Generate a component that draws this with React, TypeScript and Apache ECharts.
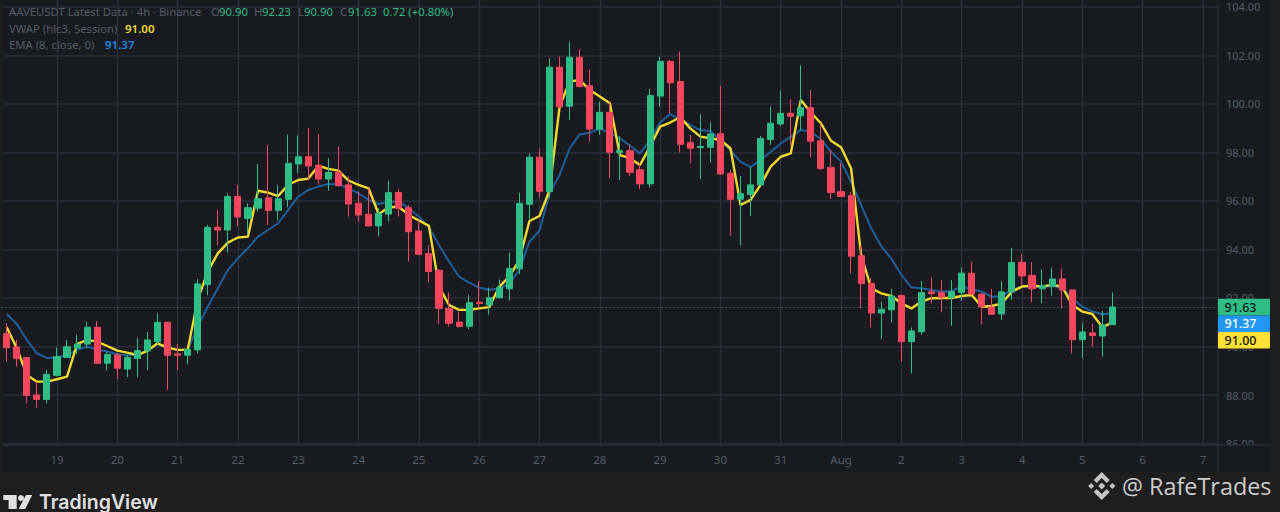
import React, { useEffect, useRef } from "react";
import * as echarts from "echarts";

const opens = [
  90.54,89.98,89.54,88.00,87.82,88.81,89.55,89.94,90.10,90.79,
  89.31,89.65,89.07,89.51,89.82,90.20,91.00,89.69,89.64,89.86,
  92.55,94.91,94.80,96.18,95.28,95.70,96.13,95.61,96.07,97.52,
  97.82,97.47,96.90,97.18,96.66,95.90,95.45,94.97,95.46,96.34,
  95.72,94.76,93.83,93.14,91.56,91.00,90.83,91.82,91.71,92.01,
  92.38,93.20,95.86,97.80,96.38,101.51,99.90,101.92,100.75,98.96,
  99.65,98.00,98.07,97.28,96.70,100.32,101.75,100.92,98.40,98.20,
  98.21,98.77,97.14,96.07,96.26,96.66,98.53,99.17,99.61,99.50,
  99.84,98.48,97.38,96.38,96.22,93.74,92.60,91.38,91.51,92.10,
  90.20,90.61,92.25,92.22,92.01,92.23,93.02,92.16,91.62,91.34,
  92.25,93.47,92.93,92.38,92.49,92.78,92.33,90.28,90.56,90.43,90.90,
];
const closes = [
  89.95,89.51,87.98,87.82,88.85,89.58,89.99,90.10,90.79,89.31,
  89.67,89.10,89.55,89.83,90.27,91.00,89.64,89.64,89.88,92.58,
  94.91,94.80,96.18,95.34,95.72,96.09,95.61,96.09,97.55,97.82,
  97.44,96.90,97.17,96.63,95.87,95.42,94.97,95.49,96.34,95.70,
  94.73,93.80,93.09,91.57,90.96,90.83,91.81,91.77,92.01,92.43,
  93.21,95.90,97.80,96.40,101.51,99.88,101.92,100.71,98.96,99.65,
  98.00,98.07,97.18,96.70,100.34,101.75,100.87,98.33,98.17,98.24,
  98.76,97.11,96.07,96.30,96.66,98.57,99.20,99.61,99.49,99.84,
  98.46,97.34,96.35,96.18,93.72,92.59,91.38,91.53,92.08,90.20,
  90.64,92.22,92.18,92.03,92.26,93.02,92.16,91.64,91.33,92.25,
  93.46,92.91,92.38,92.51,92.78,92.32,90.28,90.60,90.45,90.89,91.63,
];
const highs = [
  90.96,90.27,89.56,88.55,89.03,89.95,90.27,90.48,91.02,91.05,
  89.79,89.72,89.65,90.35,90.60,91.37,91.02,90.10,89.91,92.78,
  95.01,95.63,96.31,96.66,95.90,97.52,98.30,96.66,98.73,98.70,
  99.01,98.76,97.76,98.24,97.00,96.38,96.52,95.70,96.84,96.48,
  95.83,95.21,94.18,93.18,92.22,91.44,92.12,92.70,92.43,92.77,
  93.87,96.34,97.96,98.14,101.88,101.94,102.56,102.25,101.42,100.09,
  100.02,98.68,98.33,97.55,100.61,101.94,101.81,102.15,98.72,99.57,
  99.24,100.74,97.28,97.03,97.39,98.68,99.88,100.54,100.19,101.60,
  100.57,99.20,98.10,97.55,96.38,94.16,92.81,91.85,92.37,92.15,
  90.79,92.70,92.84,92.74,92.74,93.26,93.50,92.19,92.37,92.70,
  94.07,93.80,93.47,93.18,93.25,93.20,92.35,90.96,90.93,91.46,92.23,
];
const lows = [
  89.38,89.17,87.66,87.49,87.66,88.76,89.53,89.69,89.93,89.27,
  89.01,88.66,88.74,88.74,89.03,90.10,88.21,89.03,89.27,89.72,
  92.12,94.18,93.87,94.97,94.60,95.56,95.01,95.19,95.74,97.14,
  96.86,96.68,96.42,96.59,95.35,95.15,94.95,94.53,95.15,95.35,
  93.50,93.78,92.65,90.93,90.82,90.78,90.72,91.57,91.30,92.00,
  91.89,92.98,95.21,96.15,96.11,99.82,99.34,100.68,98.44,98.72,
  96.93,96.86,97.03,96.48,96.55,99.88,99.61,97.99,97.55,96.90,
  97.58,97.09,94.57,94.16,95.38,96.62,98.31,99.09,98.31,98.92,
  97.80,97.27,96.08,96.16,93.02,91.57,90.79,90.31,91.00,89.38,
  88.90,90.48,91.78,91.41,90.85,91.89,92.12,90.91,91.31,91.09,
  91.92,92.54,91.82,91.78,92.10,91.57,89.72,89.51,89.98,89.58,90.90,
];
const vwap = [
  90.79,89.93,88.83,88.55,88.55,88.65,88.76,90.10,90.27,90.20,
  90.02,89.83,89.75,89.64,89.82,90.13,89.95,89.86,89.86,91.92,
  93.09,93.84,94.28,94.49,94.53,96.42,96.34,96.20,96.66,96.86,
  96.92,97.44,97.32,97.25,96.84,96.66,96.52,95.45,95.74,95.76,
  95.42,95.19,94.97,92.47,91.71,91.51,91.51,91.57,91.62,92.47,
  92.88,93.57,95.17,95.38,96.43,99.88,100.92,100.98,100.57,100.30,
  100.02,97.89,97.76,97.48,98.24,99.06,99.23,99.45,98.99,98.65,
  98.58,98.51,98.17,95.83,96.04,96.66,97.41,97.82,97.96,100.16,
  99.64,99.20,98.48,98.21,97.34,93.77,92.40,92.19,92.08,91.78,
  91.57,91.85,91.99,92.00,92.00,92.08,92.12,91.64,91.67,91.78,
  92.26,92.47,92.51,92.47,92.54,92.47,91.71,91.44,91.34,90.79,91.00,
];
const ema = [
  91.34,90.93,90.27,89.72,89.53,89.55,89.65,89.86,89.99,89.88,
  89.79,89.68,89.64,89.67,89.83,90.10,89.93,89.86,89.86,90.82,
  91.64,92.40,93.15,93.63,94.05,94.53,94.80,95.08,95.63,96.18,
  96.45,96.59,96.70,96.68,96.52,96.31,96.04,95.87,95.97,95.97,
  95.70,95.35,94.91,94.18,93.50,92.88,92.63,92.43,92.33,92.40,
  92.60,93.15,94.32,94.77,96.31,97.07,98.17,98.74,98.81,98.98,
  98.79,98.58,98.28,97.96,98.51,99.23,99.58,99.36,99.13,98.92,
  98.88,98.51,98.07,97.62,97.39,97.69,98.03,98.37,98.65,98.92,
  98.85,98.54,98.03,97.62,96.79,95.83,94.87,94.13,93.63,92.95,
  92.44,92.40,92.33,92.26,92.29,92.47,92.36,92.26,92.05,92.08,
  92.33,92.47,92.47,92.44,92.49,92.40,91.99,91.64,91.44,91.33,91.37,
];
const dayLabels = ["19","20","21","22","23","24","25","26","27","28","29","30","31","Aug","2","3","4","5","6","7"];
const priceTicks = [86,88,90,92,94,96,98,100,102,104];
const lastClose = 91.63;

const UP = "#2ebd85";
const DOWN = "#f6465d";
const BG = "#181a20";
const OUTER = "#1e1e1e";
const GRID = "#2a2e39";
const MUTED = "#565a66";
const FONT = "'Noto Sans', sans-serif";

const slots = 121;
const firstDaySlot = 5;
const categories: string[] = Array.from({ length: slots }, (_, i) => {
  const k = (i - firstDaySlot) / 6;
  return Number.isInteger(k) && k >= 0 && k < dayLabels.length ? dayLabels[k] : "";
});

echarts.graphic.registerShape(
  "tvLogo",
  echarts.graphic.extendPath(
    "M3.3 495H16.7V509H8.6V500H3.3Z M21 495A3 3 0 1 1 20.99 495Z M26 495H32.2L25.2 509H18.6Z",
    {}
  )
);
echarts.graphic.registerShape(
  "bnbLogo",
  echarts.graphic.extendPath(
    "M0 -3.6L3.6 0L0 3.6L-3.6 0Z M-10.6 -3L-7.6 0L-10.6 3L-13.6 0Z M10.6 -3L13.6 0L10.6 3L7.6 0Z M0 -14L8 -6L5 -3L0 -8L-5 -3L-8 -6Z M0 14L8 6L5 3L0 8L-5 3L-8 6Z",
    {}
  )
);

function txt(x: number, y: number, text: string, fill: string, fontSize = 11.3, extra: any = {}) {
  return {
    type: "text",
    x,
    y,
    z: 8,
    silent: true,
    style: { text, fill, font: `${extra.weight || 400} ${fontSize}px ${extra.family || FONT}`, textAlign: extra.align || "left", textVerticalAlign: "middle" },
  };
}
function badge(y: number, color: string, text: string, fill: string) {
  return [
    { type: "rect", x: 1218, y, z: 7, silent: true, shape: { width: 52, height: 16.6, r: 1 }, style: { fill: color } },
    txt(1240.5, y + 8.5, text, fill, 12.5, { align: "center", weight: 500 }),
  ];
}

export default function App() {
  const ref = useRef<HTMLDivElement>(null);
  useEffect(() => {
    document.body.style.margin = "0";
    document.body.style.background = OUTER;
    const chart = echarts.init(ref.current!, undefined, { renderer: "svg" });
    const candleData = opens.map((o, i) => [o, closes[i], lows[i], highs[i]]);
    chart.setOption({
      animation: false,
      backgroundColor: OUTER,
      grid: { left: 1.7, top: 0, width: 1216.3, height: 445, containLabel: false },
      xAxis: {
        type: "category",
        data: categories,
        boundaryGap: true,
        z: 4,
        axisLine: { show: false },
        axisTick: { show: false },
        axisLabel: {
          interval: (_: number, v: string) => v !== "",
          color: MUTED,
          fontFamily: FONT,
          fontSize: 11.5,
          margin: 8,
        },
        splitLine: {
          show: true,
          alignWithLabel: true,
          interval: (_: number, v: string) => v !== "",
          lineStyle: { color: GRID, width: 1.4 },
        },
      },
      yAxis: {
        type: "value",
        position: "right",
        min: 85.94,
        max: 104.28,
        z: 0,
        axisLine: { show: false },
        axisTick: { show: false, customValues: priceTicks },
        axisLabel: {
          customValues: priceTicks,
          color: MUTED,
          fontFamily: FONT,
          fontSize: 11,
          margin: 8,
          formatter: (v: number) => v.toFixed(2),
        },
        splitLine: { show: true, lineStyle: { color: GRID, width: 1.6 } },
      },
      series: [
        {
          name: "EMA",
          type: "line",
          z: 5,
          data: ema,
          showSymbol: false,
          symbol: "none",
          lineStyle: { color: "#1e5f99", width: 2 },
        },
        {
          name: "VWAP",
          type: "line",
          z: 5,
          data: vwap,
          showSymbol: false,
          symbol: "none",
          lineStyle: { color: "#f2d92e", width: 2.4 },
        },
        {
          name: "AAVEUSDT",
          type: "candlestick",
          z: 6,
          barWidth: 6.6,
          data: candleData,
          itemStyle: { color: UP, color0: DOWN, borderColor: UP, borderColor0: DOWN, borderWidth: 1 },
          markLine: {
            silent: true,
            symbol: "none",
            label: { show: false },
            lineStyle: { color: "#2ebd85", type: [1, 3], width: 1, opacity: 0.75 },
            data: [{ yAxis: lastClose }],
          },
        },
      ],
      graphic: [
        { type: "rect", x: 1.7, y: 0, z: -10, silent: true, shape: { width: 1269, height: 472 }, style: { fill: BG } },
        { type: "rect", x: 1.7, y: 445, z: 3, silent: true, shape: { width: 1269, height: 27 }, style: { fill: BG } },
        { type: "line", z: 3, silent: true, shape: { x1: 2, y1: 445, x2: 1271, y2: 445 }, style: { stroke: GRID, lineWidth: 1.6 } },
        { type: "line", z: 3, silent: true, shape: { x1: 1218, y1: 0, x2: 1218, y2: 472 }, style: { stroke: GRID, lineWidth: 1.2 } },
        ...badge(298.8, UP, "91.63", "#131722"),
        ...badge(315.4, "#2196f3", "91.37", "#ffffff"),
        ...badge(332, "#ffe033", "91.00", "#131722"),
        txt(9, 11, "AAVEUSDT Latest Data · 4h · Binance", MUTED),
        txt(211, 11, "O", MUTED),
        txt(219, 11, "90.90", UP),
        txt(254, 11, "H", MUTED),
        txt(262, 11, "92.23", UP),
        txt(298, 11, "L", MUTED),
        txt(304, 11, "90.90", UP),
        txt(340, 11, "C", MUTED),
        txt(348, 11, "91.63", UP),
        txt(383, 11, "0.72 (+0.80%)", UP),
        txt(9, 28, "VWAP (hlc3, Session)", MUTED),
        txt(125, 28, "91.00", "#f2d92e", 11.5, { weight: 600 }),
        txt(9, 44, "EMA (8, close, 0)", MUTED),
        txt(105, 44, "91.37", "#1e88e5", 11.5, { weight: 600 }),
        { type: "tvLogo", x: 0, y: 0, z: 8, silent: true, style: { fill: "#e0e0e0" } },
        txt(39, 501.5, "TradingView", "#e0e0e0", 19.5, { weight: 600, family: "Inter, sans-serif" }),
        { type: "bnbLogo", x: 1101.7, y: 486, z: 8, silent: true, style: { fill: "#c4c4c4" } },
        txt(1122, 486, "@ RafeTrades", "#cccccc", 23.4, { weight: 400, family: "'Open Sans', sans-serif" }),
      ],
    });
    return () => chart.dispose();
  }, []);
  return <div ref={ref} style={{ width: 1280, height: 512 }} />;
}
